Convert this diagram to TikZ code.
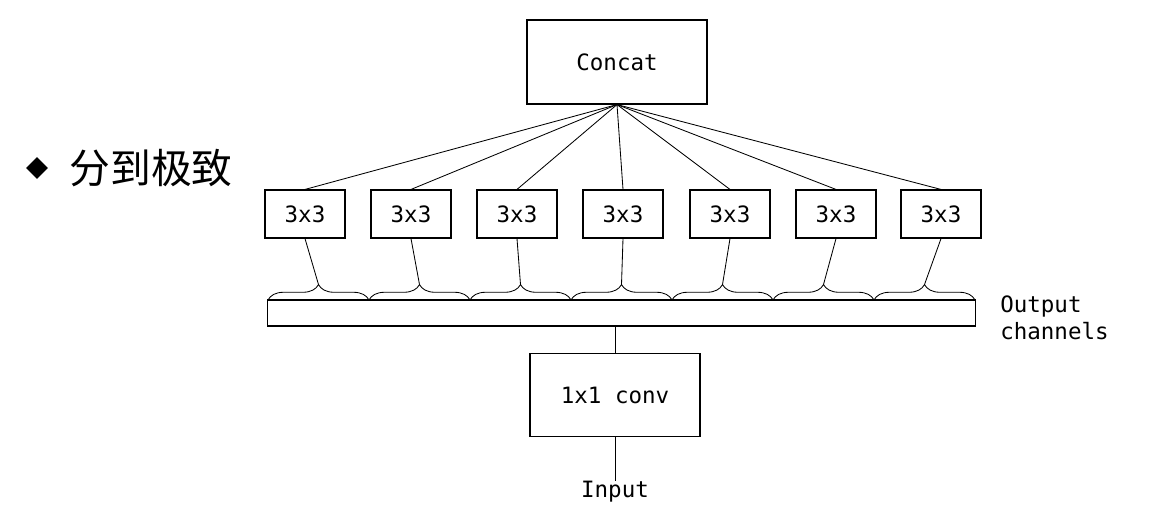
\documentclass[tikz,border=0pt]{standalone}
\usepackage{fontspec}
\setmonofont{DejaVu Sans Mono}
\newfontfamily\cjk{Noto Sans CJK SC}
\usetikzlibrary{shapes.geometric,decorations.pathreplacing}
\tikzstyle{block} = [rectangle, draw=black, thick, font=\ttfamily\fontsize{16}{19}\selectfont, inner sep=0pt]
\tikzstyle{kernel} = [block, minimum width=2cm, minimum height=1.2cm]
\tikzstyle{label} = [font=\ttfamily\fontsize{16}{19}\selectfont, inner sep=0pt]
\tikzstyle{line} = [semithick]
\tikzstyle{bracket} = [semithick, decorate, decoration={brace, amplitude=11pt}]
\begin{document}
\begin{tikzpicture}[x=0.025cm, y=0.025cm]
\useasboundingbox (0,0) rectangle (1157,522);
\node (concat) [block, minimum width=4.5cm, minimum height=2.1cm] at (617,460) {Concat};
\node (bar) [rectangle, draw=black, thick, minimum width=17.7cm, minimum height=0.65cm] at (621.5,209) {};
\node (conv) [block, minimum width=4.25cm, minimum height=2.08cm] at (615,127) {1x1 conv};
\node (input) [label] at (615,30) {Input};
\node (out) [label, anchor=west, align=left] at (1000,204) {Output\\channels};
\node (bullet) [diamond, fill=black, inner sep=0pt, minimum size=0.55cm] at (37,354) {};
\node (title) [font=\cjk\fontsize{29}{32}\selectfont, inner sep=0pt] at (151,354) {分到极致};

\foreach \i/\x in {1/305,2/411,3/517,4/623,5/730,6/836,7/941} {
  \node (k\i) [kernel] at (\x,308) {3x3};
  \draw [line] (concat.south) -- (k\i.north);
  \draw [bracket] (268+101*\i-101,222) -- coordinate[yshift=11pt] (t\i) (268+101*\i,222);
  \draw [line] (k\i.south) -- (t\i);
}

\draw [line] (bar.south -| conv.north) -- (conv.north);
\draw [line] (conv.south) -- (input.north);
\end{tikzpicture}
\end{document}
